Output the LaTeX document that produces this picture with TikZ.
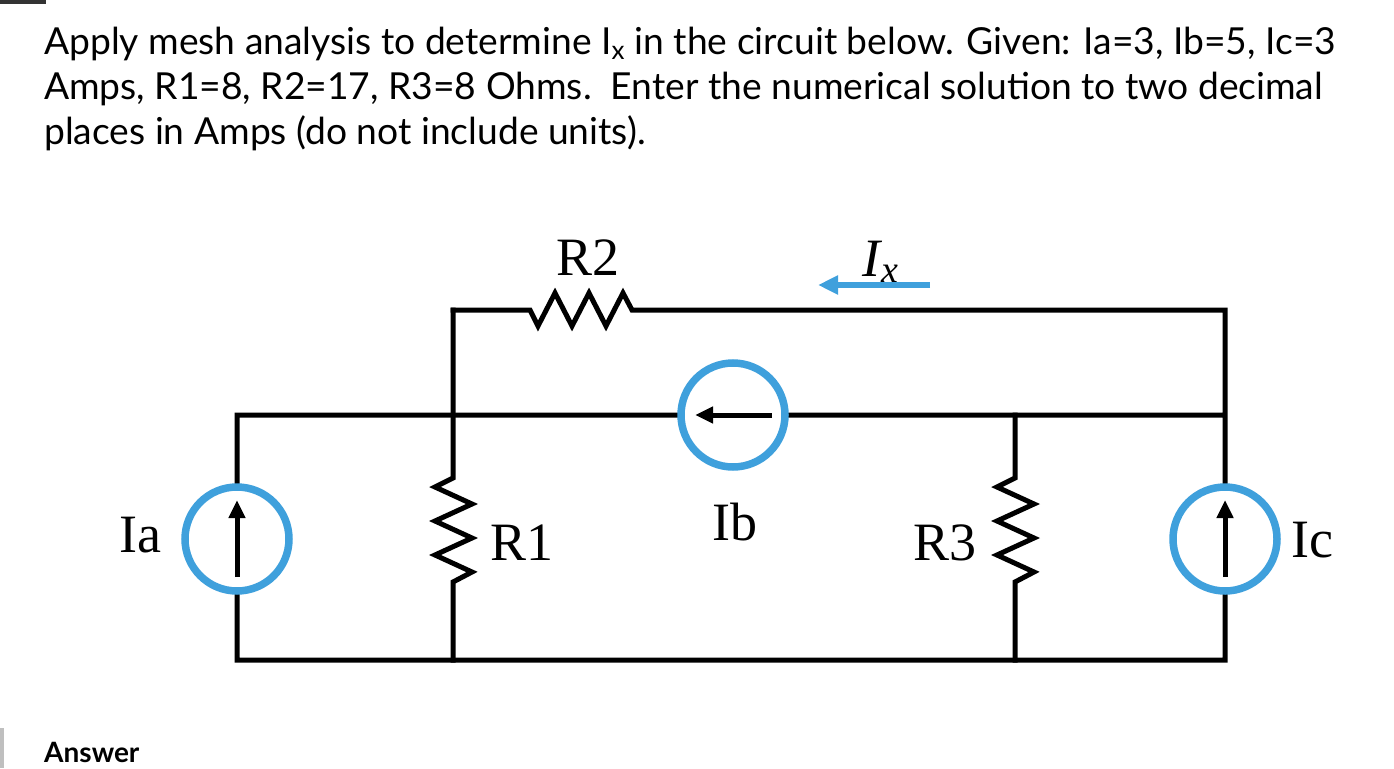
\documentclass[tikz,border=0pt]{standalone}
\usepackage{fontspec}
\setmainfont{Lato}
\newfontfamily\ser{Liberation Serif}
\usetikzlibrary{arrows.meta}
\definecolor{srcblue}{HTML}{3FA0DC}
\begin{document}
\begin{tikzpicture}[x=1pt,y=-1pt,
  wire/.style={line width=5pt, line cap=rect},
  src/.style={circle, draw=srcblue, line width=7.5pt, minimum size=104pt, inner sep=0pt, fill=white},
  lbl/.style={font=\ser\fontsize{54}{54}\selectfont, inner sep=0pt},
  arr/.style={line width=5pt, -{Triangle[length=18pt,width=16pt]}}]
\useasboundingbox (0,0) rectangle (1394,768);
\fill[black!80] (0,0) rectangle (46,4);
\fill[black!25] (0,728) rectangle (4,768);
\node[anchor=north west, align=left, inner sep=0pt, font=\fontsize{37.2}{45}\selectfont] (q) at (44,27)
 {Apply mesh analysis to determine I\textsubscript{x} in the circuit below. Given: Ia=3, Ib=5, Ic=3\\ Amps, R1=8, R2=17, R3=8 Ohms.\ \ Enter the numerical solution to two decimal\\ places in Amps (do not include units).};
\node[anchor=base west, inner sep=0pt, font=\bfseries\fontsize{28}{28}\selectfont] (ans) at (44,762) {Answer};
% coordinates
\coordinate (tl) at (453,310); \coordinate (tr) at (1225,310);
\coordinate (ml) at (237,415); \coordinate (m1) at (453,415); \coordinate (m3) at (1015,415); \coordinate (mr) at (1225,415);
\coordinate (bl) at (237,660); \coordinate (b1) at (453,660); \coordinate (b3) at (1015,660); \coordinate (br) at (1225,660);
% wires
\draw[wire] (tl) -- (530,310) -- (538,326) -- (555,293) -- (572,326) -- (589,293) -- (606,326) -- (623,293) -- (632,310) -- (tr) -- (br) -- (bl) -- (ml) -- (mr);
\draw[wire] (tl) -- (453,478) -- (435,487) -- (472,504) -- (435,521) -- (472,538) -- (435,555) -- (472,572) -- (453,582) -- (b1);
\draw[wire] (m3) -- (1015,478) -- (997,487) -- (1034,504) -- (997,521) -- (1034,538) -- (997,555) -- (1034,572) -- (1015,582) -- (b3);
% sources
\node[src] (ia) at (237,539) {};
\node[src] (ib) at (733,415) {};
\node[src] (ic) at (1225,539) {};
\draw[arr] (237,577) -- (237,500);
\draw[arr] (1225,577) -- (1225,500);
\draw[arr] (772,415) -- (695,415);
% Ix arrow
\coordinate (ixs) at (930,285); \coordinate (ixe) at (818,285);
\draw[line width=6pt, draw=srcblue, -{Triangle[length=20pt,width=18pt]}] (ixs) -- (ixe);
% labels
\node[lbl] (lr2) at (588,258) {R2};
\node[lbl] (lix) at (880,262) {\textit{I\kern1pt\raisebox{-6pt}{\fontsize{38}{38}\selectfont x}}};
\node[lbl] (lia) at (140,535) {Ia};
\node[lbl] (lr1) at (522,543) {R1};
\node[lbl] (lib) at (735,522) {Ib};
\node[lbl] (lr3) at (945,543) {R3};
\node[lbl] (lic) at (1312,540) {Ic};
\end{tikzpicture}
\end{document}
